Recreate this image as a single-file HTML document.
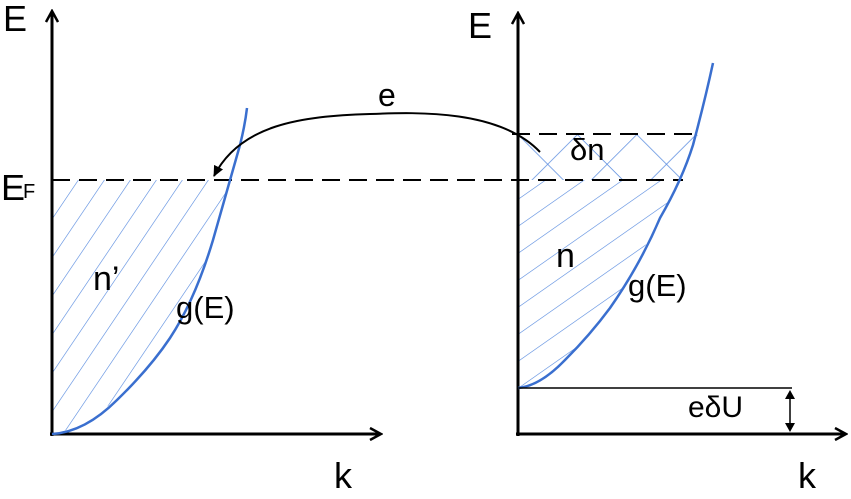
<!DOCTYPE html>
<html><head><meta charset="utf-8"><style>
html,body{margin:0;padding:0;background:#fff;}
svg text{font-family:"Liberation Sans",sans-serif;fill:#000;}
</style></head><body>
<svg width="851" height="494" viewBox="0 0 851 494" xmlns="http://www.w3.org/2000/svg">
<defs>
<pattern id="hl" patternUnits="userSpaceOnUse" width="26" height="40" patternTransform="translate(52,180) skewX(-34)">
<line x1="0" y1="0" x2="0" y2="40" stroke="#5b8de0" stroke-width="1.5"/>
</pattern>
<pattern id="hr" patternUnits="userSpaceOnUse" width="40" height="27" patternTransform="translate(518,199) skewY(-35)">
<line x1="0" y1="0" x2="40" y2="0" stroke="#5b8de0" stroke-width="1.5"/>
</pattern>
<pattern id="hx" patternUnits="userSpaceOnUse" width="42" height="42" patternTransform="translate(518,134) rotate(45)">
<line x1="0" y1="0" x2="42" y2="0" stroke="#5b8de0" stroke-width="1.5"/>
<line x1="0" y1="0" x2="0" y2="42" stroke="#5b8de0" stroke-width="1.5"/>
</pattern>
<marker id="ah" markerWidth="14" markerHeight="14" refX="11" refY="7" orient="auto" markerUnits="userSpaceOnUse">
<path d="M1,1 L12,7 L1,13" fill="none" stroke="#000" stroke-width="2.5"/>
</marker>
<marker id="af" markerWidth="12" markerHeight="12" refX="10" refY="6" orient="auto" markerUnits="userSpaceOnUse">
<path d="M0,1 L11,6 L0,11 Z" fill="#000"/>
</marker>
</defs>
<polygon points="52,434 77,427 117,400 150,367 180,320 207,260 230,180 52,180" fill="url(#hl)"/>
<polygon points="518,388 535,383 565,360 607,312 635,267 658,220 682,180 518,180" fill="url(#hr)"/>
<polygon points="518,180 682,180 698,134 518,134" fill="url(#hx)"/>
<line x1="52" y1="436" x2="52" y2="12" stroke="#000" stroke-width="3" marker-end="url(#ah)"/>
<line x1="50" y1="434" x2="380" y2="434" stroke="#000" stroke-width="3" marker-end="url(#ah)"/>
<line x1="518" y1="436" x2="518" y2="14" stroke="#000" stroke-width="3" marker-end="url(#ah)"/>
<line x1="516" y1="434" x2="845" y2="434" stroke="#000" stroke-width="3" marker-end="url(#ah)"/>
<line x1="52" y1="180" x2="683" y2="180" stroke="#000" stroke-width="2" stroke-dasharray="18,9"/>
<line x1="512" y1="134" x2="698" y2="134" stroke="#000" stroke-width="2" stroke-dasharray="18,9"/>
<path d="M52,434 Q85,432 117,400 Q150,368 170,338 Q195,300 213,240 Q230,180 240,145 Q245,125 247,108" fill="none" stroke="#3a6fcf" stroke-width="2.5"/>
<path d="M518,388 Q540,386 565,360 Q590,335 610,308 Q640,265 660,218 Q682,180 693,145 Q705,100 713,63" fill="none" stroke="#3a6fcf" stroke-width="2.5"/>
<line x1="518" y1="388" x2="792" y2="388" stroke="#000" stroke-width="1.5"/>
<line x1="790" y1="392" x2="790" y2="430" stroke="#000" stroke-width="1.5"/>
<path d="M785,399 L790,390 L795,399 Z" fill="#000"/>
<path d="M785,423 L790,432 L795,423 Z" fill="#000"/>
<path d="M540,152 C500,110 420,112 370,114 C300,116 240,125 214,176" fill="none" stroke="#000" stroke-width="2" marker-end="url(#af)"/>
<text x="3" y="31" font-size="36">E</text>
<text x="1" y="200" font-size="36">E</text>
<text x="23" y="198" font-size="20">F</text>
<text x="334" y="488" font-size="36">k</text>
<text x="798" y="488" font-size="36">k</text>
<text x="468" y="38" font-size="36">E</text>
<text x="93" y="290" font-size="34">n’</text>
<text x="176" y="318" font-size="31">g(E)</text>
<text x="378" y="106" font-size="32">e</text>
<text x="570" y="160" font-size="31">δn</text>
<text x="556" y="267" font-size="34">n</text>
<text x="628" y="296" font-size="31">g(E)</text>
<text x="688" y="417" font-size="30">eδU</text>
</svg>
</body></html>
